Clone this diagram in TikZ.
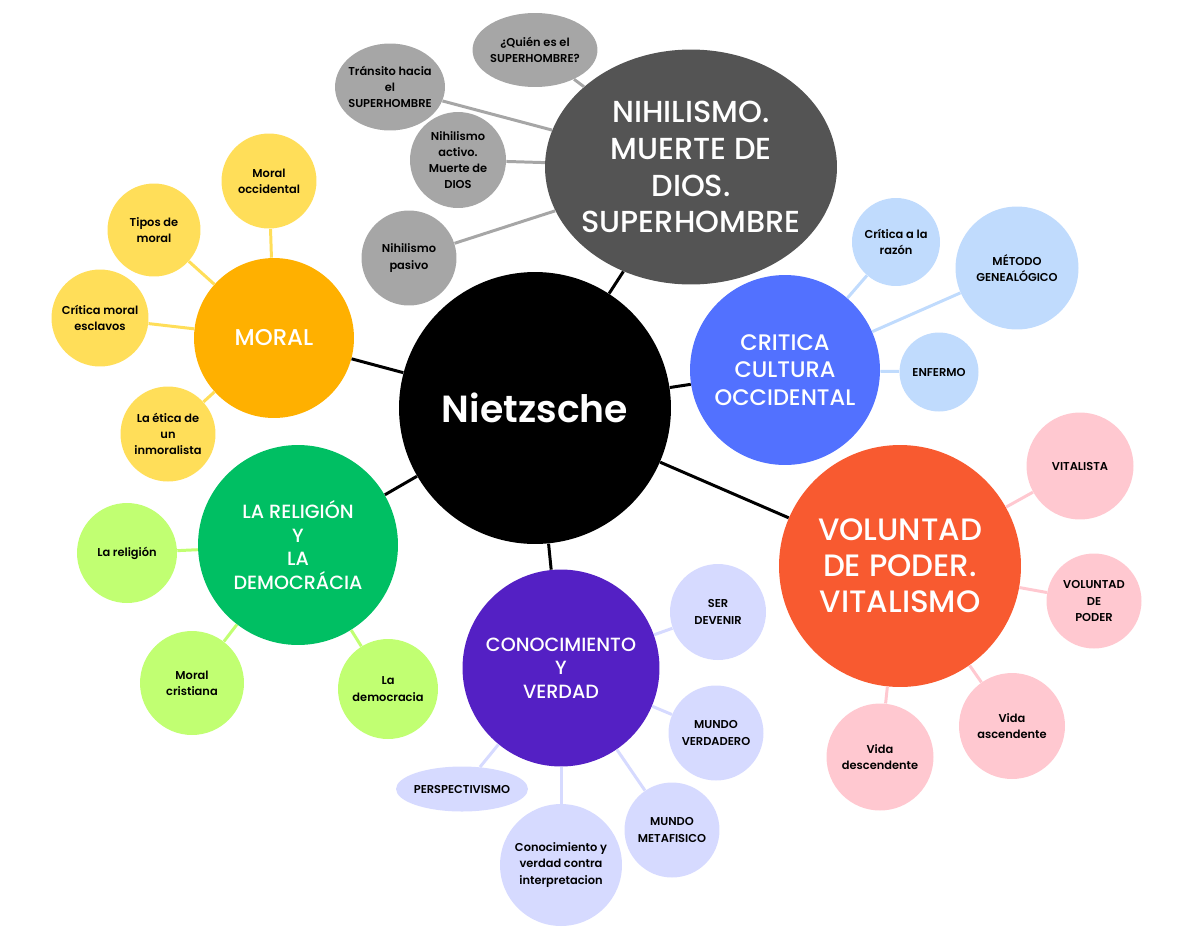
\documentclass[tikz,border=0pt]{standalone}
\usepackage{fontspec}
\setmainfont{Poppins}
\newfontfamily\hubfont{Poppins Medium}
\newfontfamily\leaffont{Poppins SemiBold}
\usetikzlibrary{shapes.geometric}
\definecolor{nihdark}{HTML}{545454}
\definecolor{nihleaf}{HTML}{A6A6A6}
\definecolor{cultdark}{HTML}{5271FF}
\definecolor{cultleaf}{HTML}{C0DBFD}
\definecolor{voldark}{HTML}{F85A30}
\definecolor{volleaf}{HTML}{FFC8D0}
\definecolor{condark}{HTML}{5420C4}
\definecolor{conleaf}{HTML}{D6DAFF}
\definecolor{reldark}{HTML}{00BF63}
\definecolor{relleaf}{HTML}{C1FF72}
\definecolor{moraldark}{HTML}{FFB000}
\definecolor{moralleaf}{HTML}{FFDE59}
\tikzset{
  hub/.style={circle,fill=#1,text=white,align=center,inner sep=0pt},
  leaf/.style={circle,fill=#1,text=black,align=center,inner sep=0pt,font=\fontsize{6.5}{9.2}\leaffont},
  oval/.style={ellipse,fill=#1,text=black,align=center,inner ysep=0pt,inner xsep=-7pt,font=\fontsize{6.5}{9.2}\leaffont},
  link/.style={line width=1.7pt},
}
\begin{document}
\begin{tikzpicture}[x=0.02cm,y=-0.02cm]
    \useasboundingbox (0,0) rectangle (1200,927);

    % Draw the middle node
    \node[circle,fill=black,text=white,minimum size=5.44cm,inner sep=0pt,font=\fontsize{21.5}{25}\leaffont] (nietzsche) at (535,408) {Nietzsche};

    % Draw the main topics
    \node[hub=nihdark,ellipse,inner xsep=-7pt,minimum width=5.84cm,minimum height=4.7cm,font=\fontsize{17.3}{21}\hubfont] (nihilismo) at (691,167) {NIHILISMO.\\MUERTE DE\\DIOS.\\SUPERHOMBRE};
    \node[hub=cultdark,minimum size=3.8cm,font=\fontsize{12.8}{15.5}\hubfont] (cultura) at (785,370) {CRITICA\\CULTURA\\OCCIDENTAL};
    \node[hub=voldark,minimum size=4.84cm,font=\fontsize{17.6}{20.5}\hubfont] (voluntad) at (900,566) {VOLUNTAD\\DE PODER.\\VITALISMO};
    \node[hub=condark,minimum size=3.94cm,font=\fontsize{10.9}{13.3}\hubfont] (conocimiento) at (561,668) {CONOCIMIENTO\\Y\\VERDAD};
    \node[hub=reldark,minimum size=4cm,font=\fontsize{10.9}{13.3}\hubfont] (religion) at (298,545) {LA RELIGIÓN\\Y\\LA\\DEMOCRÁCIA};
    \node[hub=moraldark,minimum size=3.2cm,font=\fontsize{13}{15}\hubfont] (moral) at (274,338) {MORAL};

    % Draw the grey leaves
    \node[oval=nihleaf,minimum width=2.5cm,minimum height=1.48cm] (quien) at (535,50) {¿Quién es el\\SUPERHOMBRE?};
    \node[oval=nihleaf,minimum width=2.2cm,minimum height=1.74cm] (transito) at (390,87) {Tránsito hacia\\el\\SUPERHOMBRE};
    \node[leaf=nihleaf,minimum size=1.92cm] (activo) at (458,160) {Nihilismo\\activo.\\Muerte de\\DIOS};
    \node[leaf=nihleaf,minimum size=1.9cm] (pasivo) at (409,258) {Nihilismo\\pasivo};

    % Draw the blue leaves
    \node[leaf=cultleaf,minimum size=1.76cm] (razon) at (896,242) {Crítica a la\\razón};
    \node[leaf=cultleaf,minimum size=2.46cm] (metodo) at (1017,268) {MÉTODO\\GENEALÓGICO};
    \node[leaf=cultleaf,minimum size=1.58cm] (enfermo) at (939,372) {ENFERMO};

    % Draw the pink leaves
    \node[leaf=volleaf,minimum size=2.14cm] (vitalista) at (1080,466) {VITALISTA};
    \node[leaf=volleaf,minimum size=1.9cm] (poder) at (1094,601) {VOLUNTAD\\DE\\PODER};
    \node[leaf=volleaf,minimum size=2.12cm] (ascendente) at (1012,726) {Vida\\ascendente};
    \node[leaf=volleaf,minimum size=2.14cm] (descendente) at (880,757) {Vida\\descendente};

    % Draw the lilac leaves
    \node[leaf=conleaf,minimum size=1.92cm] (devenir) at (718,612) {SER\\DEVENIR};
    \node[leaf=conleaf,minimum size=1.9cm] (verdadero) at (716,733) {MUNDO\\VERDADERO};
    \node[leaf=conleaf,minimum size=1.9cm] (metafisico) at (672,830) {MUNDO\\METAFISICO};
    \node[leaf=conleaf,minimum size=2.44cm] (contra) at (561,865) {Conocimiento y\\verdad contra\\interpretacion};
    \node[oval=conleaf,minimum width=2.64cm,minimum height=0.9cm] (perspectivismo) at (462,789) {PERSPECTIVISMO};

    % Draw the green leaves
    \node[leaf=relleaf,minimum size=2cm] (democracia) at (388,689) {La\\democracia};
    \node[leaf=relleaf,minimum size=2.08cm] (cristiana) at (192,683) {Moral\\cristiana};
    \node[leaf=relleaf,minimum size=2cm] (lareligion) at (127,553) {La religión};

    % Draw the yellow leaves
    \node[leaf=moralleaf,minimum size=1.9cm] (etica) at (168,434) {La ética de\\un\\inmoralista};
    \node[leaf=moralleaf,minimum size=1.94cm] (esclavos) at (100,318) {Crítica moral\\esclavos};
    \node[leaf=moralleaf,minimum size=1.86cm] (tipos) at (154,230) {Tipos de\\moral};
    \node[leaf=moralleaf,minimum size=1.9cm] (occidental) at (269,181) {Moral\\occidental};

    % Draw the connectors
    \foreach \a in {nihilismo,cultura,voluntad,conocimiento,religion,moral}
        \draw[link] (nietzsche) -- (\a);
    \foreach \a in {quien,transito,activo,pasivo}
        \draw[link,nihleaf] (nihilismo) -- (\a);
    \foreach \a in {razon,metodo,enfermo}
        \draw[link,cultleaf] (cultura) -- (\a);
    \foreach \a in {vitalista,poder,ascendente,descendente}
        \draw[link,volleaf] (voluntad) -- (\a);
    \foreach \a in {devenir,verdadero,metafisico,contra,perspectivismo}
        \draw[link,conleaf] (conocimiento) -- (\a);
    \foreach \a in {democracia,cristiana,lareligion}
        \draw[link,relleaf] (religion) -- (\a);
    \foreach \a in {etica,esclavos,tipos,occidental}
        \draw[link,moralleaf] (moral) -- (\a);
\end{tikzpicture}
\end{document}
